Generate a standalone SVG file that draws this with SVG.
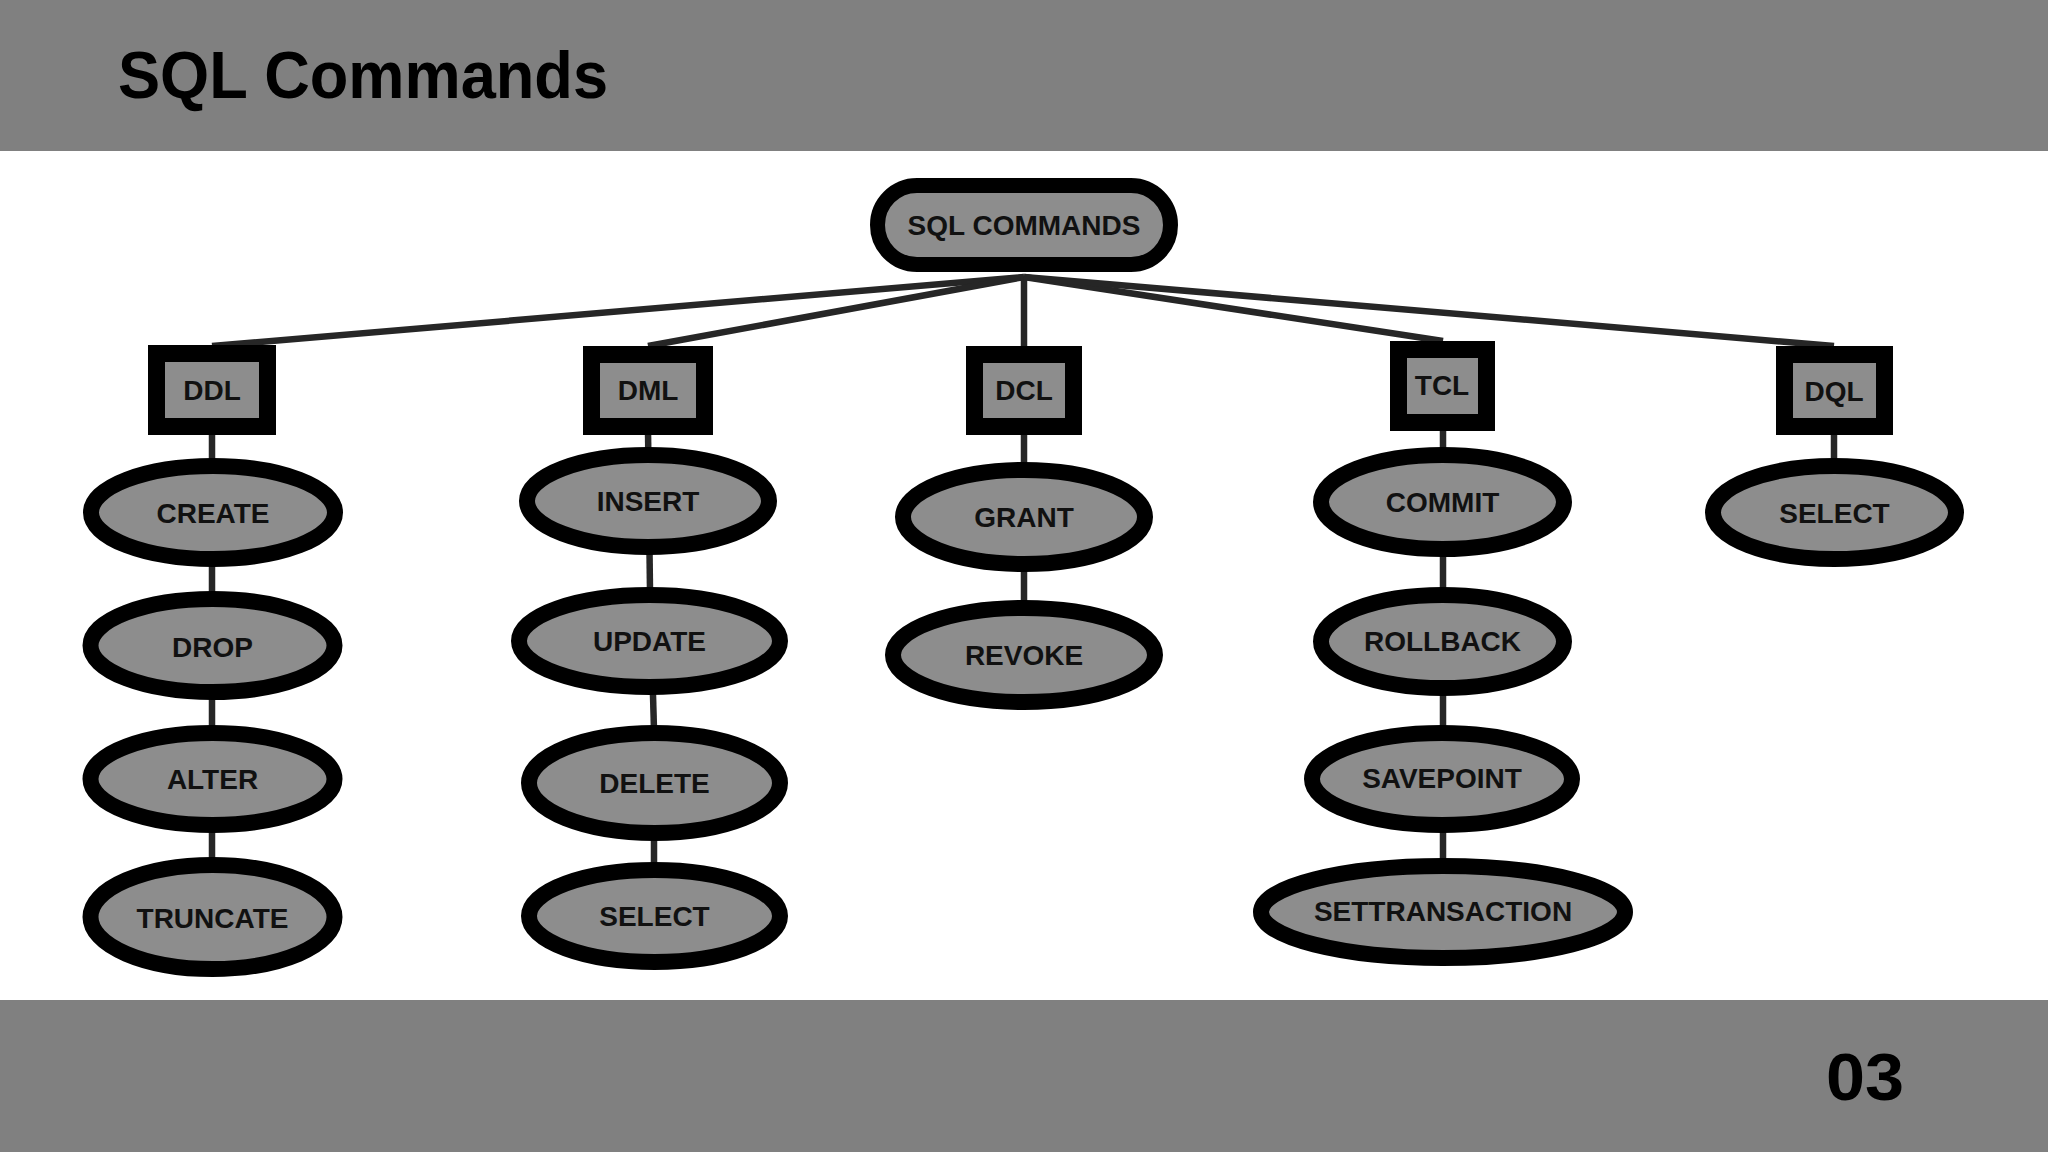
<svg xmlns="http://www.w3.org/2000/svg" width="2048" height="1152" viewBox="0 0 2048 1152">
<style>
.band{fill:#808080}
.title{font-family:"Liberation Sans",Arial,sans-serif;font-weight:bold;font-size:66px;fill:#000}
.box{fill:#8d8d8d;stroke:#000;stroke-width:17}
.pill{fill:#8d8d8d;stroke:#000;stroke-width:15}
.oval{fill:#8d8d8d;stroke:#000;stroke-width:16}
.lbl{font-family:"Liberation Sans",Arial,sans-serif;font-weight:bold;font-size:28px;fill:#111;text-anchor:middle}
.edge{stroke:#262626;stroke-width:6.5;fill:none}
</style>
<rect x="0" y="0" width="2048" height="1152" fill="#fff"/>
<rect class="band" x="0" y="0" width="2048" height="151"/>
<rect class="band" x="0" y="1000" width="2048" height="152"/>
<text class="title" x="118" y="98" textLength="490" lengthAdjust="spacingAndGlyphs">SQL Commands</text>
<text class="title" x="1826" y="1100" textLength="78" lengthAdjust="spacingAndGlyphs">03</text>

<g id="connectors">
<line class="edge" x1="1024" y1="277" x2="212" y2="346"/>
<line class="edge" x1="1024" y1="277" x2="648" y2="346"/>
<line class="edge" x1="1024" y1="277" x2="1024" y2="346"/>
<line class="edge" x1="1024" y1="277" x2="1443" y2="341"/>
<line class="edge" x1="1024" y1="277" x2="1834" y2="346"/>
<line class="edge" x1="212" y1="430" x2="212" y2="862"/>
<line class="edge" x1="648" y1="430" x2="650" y2="590"/>
<line class="edge" x1="650" y1="590" x2="654" y2="730"/>
<line class="edge" x1="654" y1="730" x2="654" y2="866"/>
<line class="edge" x1="1024" y1="430" x2="1024" y2="605"/>
<line class="edge" x1="1443" y1="425" x2="1443" y2="862"/>
<line class="edge" x1="1834" y1="430" x2="1834" y2="462"/>
</g>

<g id="root">
<rect class="pill" x="877.5" y="185.5" width="293" height="79" rx="39.5"/>
<text class="lbl" x="1024" y="235">SQL COMMANDS</text>
</g>

<g id="ddl"><rect class="box" x="156.5" y="353.5" width="111" height="73"/><text class="lbl" x="212" y="400">DDL</text></g>
<g id="dml"><rect class="box" x="591.5" y="354.5" width="113" height="72"/><text class="lbl" x="648" y="400">DML</text></g>
<g id="dcl"><rect class="box" x="974.5" y="354.5" width="99" height="72"/><text class="lbl" x="1024" y="400">DCL</text></g>
<g id="tcl"><rect class="box" x="1398.5" y="349.5" width="88" height="73"/><text class="lbl" x="1442" y="395">TCL</text></g>
<g id="dql"><rect class="box" x="1784.5" y="354.5" width="100" height="72"/><text class="lbl" x="1834" y="401">DQL</text></g>

<g id="create"><ellipse class="oval" cx="213" cy="512.5" rx="122" ry="46.5"/><text class="lbl" x="213" y="523">CREATE</text></g>
<g id="drop"><ellipse class="oval" cx="212.5" cy="645.5" rx="122" ry="46.5"/><text class="lbl" x="212.5" y="657">DROP</text></g>
<g id="alter"><ellipse class="oval" cx="212.5" cy="779" rx="122" ry="46"/><text class="lbl" x="212.5" y="789">ALTER</text></g>
<g id="truncate"><ellipse class="oval" cx="212.5" cy="917" rx="122" ry="52"/><text class="lbl" x="212.5" y="928">TRUNCATE</text></g>

<g id="insert"><ellipse class="oval" cx="648" cy="501" rx="121" ry="46"/><text class="lbl" x="648" y="511">INSERT</text></g>
<g id="update"><ellipse class="oval" cx="649.5" cy="641" rx="130.5" ry="46"/><text class="lbl" x="649.5" y="651">UPDATE</text></g>
<g id="delete"><ellipse class="oval" cx="654.5" cy="783" rx="125.5" ry="50"/><text class="lbl" x="654.5" y="793">DELETE</text></g>
<g id="select-dml"><ellipse class="oval" cx="654.5" cy="916" rx="125.5" ry="46"/><text class="lbl" x="654.5" y="926">SELECT</text></g>

<g id="grant"><ellipse class="oval" cx="1024" cy="517" rx="121" ry="47"/><text class="lbl" x="1024" y="527">GRANT</text></g>
<g id="revoke"><ellipse class="oval" cx="1024" cy="655" rx="131" ry="47"/><text class="lbl" x="1024" y="665">REVOKE</text></g>

<g id="commit"><ellipse class="oval" cx="1442.5" cy="502" rx="121.5" ry="47"/><text class="lbl" x="1442.5" y="512">COMMIT</text></g>
<g id="rollback"><ellipse class="oval" cx="1442.5" cy="641.5" rx="121.5" ry="46.5"/><text class="lbl" x="1442.5" y="651">ROLLBACK</text></g>
<g id="savepoint"><ellipse class="oval" cx="1442" cy="779" rx="130" ry="46"/><text class="lbl" x="1442" y="788">SAVEPOINT</text></g>
<g id="settransaction"><ellipse class="oval" cx="1443" cy="912" rx="182" ry="46"/><text class="lbl" x="1443" y="921">SETTRANSACTION</text></g>

<g id="select-dql"><ellipse class="oval" cx="1834.5" cy="512.5" rx="121.5" ry="46.5"/><text class="lbl" x="1834.5" y="523">SELECT</text></g>
</svg>
